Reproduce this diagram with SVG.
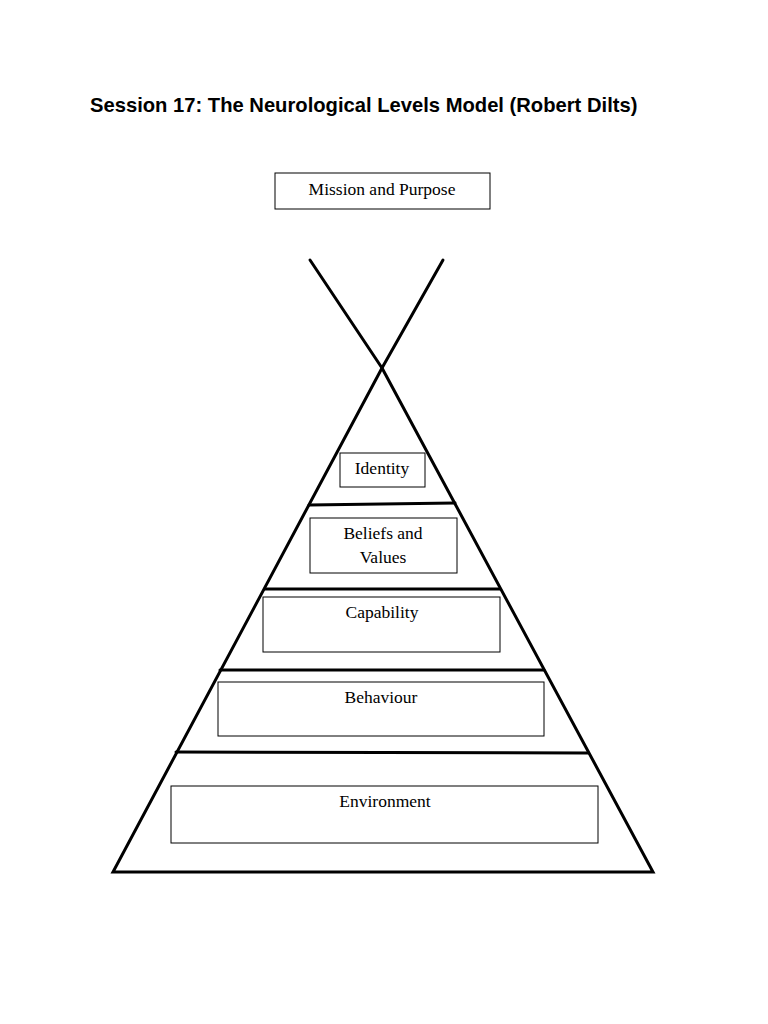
<svg xmlns="http://www.w3.org/2000/svg" width="768" height="1024" viewBox="0 0 768 1024">
<style>
.b{fill:#fff;stroke:#000;stroke-width:1}
.t{font-family:"Liberation Serif",serif;font-size:17.5px;text-anchor:middle;fill:#000}
.l{stroke:#000;stroke-width:3;fill:none;stroke-linecap:round}
</style>
<rect width="768" height="1024" fill="#fff"/>
<text x="90" y="112" font-family="Liberation Sans,Arial,sans-serif" font-weight="bold" font-size="20.2">Session 17: The Neurological Levels Model (Robert Dilts)</text>
<g id="connectors">
<path class="l" d="M310 260 L382 368 M443 260 L382 368"/>
<path class="l" d="M382 368 L113 872 L653 872 Z"/>
<path class="l" d="M309 505 L455 503 M265 589 L500 589 M220 670 L544 670 M176 752 L588 753"/>
</g>
<g id="mission"><rect class="b" x="275" y="173" width="215" height="36"/><text class="t" x="382" y="195">Mission and Purpose</text></g>
<g id="identity"><rect class="b" x="340" y="453" width="85" height="34"/><text class="t" x="382" y="474">Identity</text></g>
<g id="beliefs"><rect class="b" x="310" y="518" width="147" height="55"/><text class="t" x="383" y="539">Beliefs and</text><text class="t" x="383" y="563">Values</text></g>
<g id="capability"><rect class="b" x="263" y="597" width="237" height="55"/><text class="t" x="382" y="618">Capability</text></g>
<g id="behaviour"><rect class="b" x="218" y="682" width="326" height="54"/><text class="t" x="381" y="703">Behaviour</text></g>
<g id="environment"><rect class="b" x="171" y="786" width="427" height="57"/><text class="t" x="385" y="807">Environment</text></g>
</svg>
